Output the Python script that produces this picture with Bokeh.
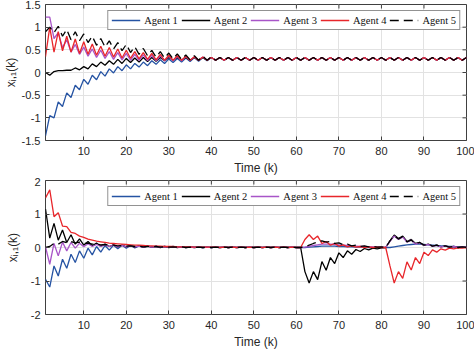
import math
from bokeh.plotting import figure
from bokeh.models import Range1d, FixedTicker, Legend, LegendItem
from bokeh.layouts import column
from bokeh.embed import file_html
from bokeh.resources import INLINE

k = list(range(1, 101))
agent_names = ["Agent 1", "Agent 2", "Agent 3", "Agent 4", "Agent 5"]
agent_colors = ["#2553a3", "#000000", "#a855c8", "#e8262b", "#000000"]
agent_dash = ["solid", "solid", "solid", "solid", "9 5"]

xticks = [10, 20, 30, 40, 50, 60, 70, 80, 90, 100]
xtick_labels = ["10", "20", "30", "40", "50", "60", "70", "80", "90", "100"]
top_yticks = [-1.5, -1, -0.5, 0, 0.5, 1, 1.5]
top_ytick_labels = ["-1.5", "-1", "-0.5", "0", "0.5", "1", "1.5"]
bot_yticks = [-2, -1, 0, 1, 2]
bot_ytick_labels = ["-2", "-1", "0", "1", "2"]

# ---- top panel, k = 1..40 per agent, then common steady zigzag k = 41..100
top_a1_head = [-1.40, -0.95, -1.00, -0.65, -0.75, -0.45, -0.55, -0.28, -0.38, -0.15,
               -0.26, -0.06, -0.16, 0.02, -0.08, 0.08, -0.01, 0.13, 0.04, 0.17,
               0.08, 0.20, 0.12, 0.23, 0.15, 0.26, 0.18, 0.28, 0.20, 0.30,
               0.22, 0.31, 0.23, 0.32, 0.24, 0.33, 0.25, 0.33, 0.26, 0.33]
top_a2_head = [0.00, -0.06, 0.02, 0.04, 0.04, 0.05, 0.05, 0.10, 0.06, 0.13,
               0.08, 0.19, 0.13, 0.23, 0.16, 0.26, 0.18, 0.29, 0.20, 0.31,
               0.22, 0.32, 0.23, 0.33, 0.24, 0.33, 0.25, 0.33, 0.26, 0.33,
               0.27, 0.33, 0.27, 0.33, 0.27, 0.33, 0.27, 0.33, 0.27, 0.33]
top_a3_head = [1.22, 1.22, 0.75, 0.88, 0.55, 0.72, 0.45, 0.62, 0.40, 0.56,
               0.36, 0.52, 0.33, 0.49, 0.31, 0.46, 0.29, 0.44, 0.28, 0.42,
               0.27, 0.40, 0.27, 0.39, 0.26, 0.38, 0.26, 0.37, 0.26, 0.36,
               0.26, 0.35, 0.26, 0.35, 0.27, 0.34, 0.27, 0.34, 0.27, 0.33]
top_a4_head = [0.35, 1.00, 0.45, 0.90, 0.48, 0.80, 0.45, 0.74, 0.42, 0.68,
               0.40, 0.63, 0.38, 0.58, 0.36, 0.55, 0.34, 0.52, 0.32, 0.49,
               0.31, 0.46, 0.30, 0.44, 0.29, 0.42, 0.28, 0.40, 0.27, 0.38,
               0.27, 0.37, 0.27, 0.36, 0.27, 0.35, 0.27, 0.34, 0.27, 0.33]
top_a5_head = [0.90, 1.00, 0.88, 1.02, 0.80, 0.95, 0.72, 0.90, 0.70, 0.85,
               0.66, 0.80, 0.60, 0.75, 0.56, 0.70, 0.52, 0.66, 0.48, 0.62,
               0.44, 0.57, 0.40, 0.53, 0.37, 0.49, 0.34, 0.46, 0.32, 0.43,
               0.30, 0.41, 0.29, 0.39, 0.28, 0.37, 0.27, 0.36, 0.27, 0.35]
top_steady = [0.27, 0.33, 0.27, 0.33, 0.27, 0.33, 0.27, 0.33, 0.27, 0.33,
              0.27, 0.33, 0.27, 0.33, 0.27, 0.33, 0.27, 0.33, 0.27, 0.33,
              0.27, 0.33, 0.27, 0.33, 0.27, 0.33, 0.27, 0.33, 0.27, 0.33,
              0.27, 0.33, 0.27, 0.33, 0.27, 0.33, 0.27, 0.33, 0.27, 0.33,
              0.27, 0.33, 0.27, 0.33, 0.27, 0.33, 0.27, 0.33, 0.27, 0.33,
              0.27, 0.33, 0.27, 0.33, 0.27, 0.33, 0.27, 0.33, 0.27, 0.33]

# ---- bottom panel, k = 1..100
bot_a1 = [-0.95, -1.18, -0.55, -0.85, -0.35, -0.62, -0.20, -0.45, -0.10, -0.32,
          -0.02, -0.22, 0.03, -0.14, 0.06, -0.08, 0.07, -0.04, 0.07, -0.02,
          0.06, -0.01, 0.05, 0.00, 0.04, 0.01, 0.04, 0.01, 0.03, 0.01,
          0.03, 0.01, 0.02, 0.01, 0.02, 0.01, 0.02, 0.00, 0.01, 0.00,
          0.01, 0.00, 0.01, 0.00, 0.01, 0.00, 0.01, 0.00, 0.01, 0.00,
          0.01, 0.00, 0.01, 0.00, 0.01, 0.00, 0.01, 0.00, 0.01, 0.00,
          0.00, 0.00, 0.01, 0.02, 0.03, 0.04, 0.04, 0.04, 0.04, 0.03,
          0.03, 0.02, 0.02, 0.01, 0.01, 0.01, 0.00, 0.00, 0.00, 0.00,
          0.00, 0.00, 0.02, 0.04, 0.06, 0.08, 0.09, 0.10, 0.10, 0.09,
          0.08, 0.07, 0.06, 0.05, 0.04, 0.03, 0.03, 0.02, 0.02, 0.01]
bot_a2 = [1.15, 0.28, 0.72, 0.22, 0.52, 0.15, 0.38, 0.10, 0.26, 0.07,
          0.18, 0.05, 0.13, 0.04, 0.10, 0.03, 0.08, 0.02, 0.07, 0.02,
          0.06, 0.01, 0.05, 0.01, 0.04, 0.01, 0.03, 0.00, 0.03, 0.00,
          0.02, 0.00, 0.02, 0.00, 0.01, 0.00, 0.01, 0.00, 0.01, 0.00,
          0.01, 0.00, 0.01, 0.00, 0.01, 0.00, 0.01, 0.00, 0.01, 0.00,
          0.01, 0.00, 0.01, 0.00, 0.01, 0.00, 0.01, 0.00, 0.01, 0.00,
          0.00, -0.72, -1.06, -0.72, -0.96, -0.42, -0.68, -0.30, -0.48, -0.16,
          -0.30, -0.10, -0.20, -0.06, -0.12, -0.03, -0.07, -0.02, -0.04, -0.01,
          0.00, 0.20, 0.37, 0.27, 0.34, 0.18, 0.24, 0.12, 0.15, 0.06,
          0.10, 0.04, 0.07, 0.02, 0.05, 0.01, 0.03, 0.00, 0.02, 0.00]
bot_a3 = [0.02, -0.50, 0.12, -0.25, 0.16, -0.10, 0.15, -0.02, 0.13, 0.02,
          0.11, 0.03, 0.09, 0.03, 0.08, 0.03, 0.07, 0.02, 0.06, 0.02,
          0.05, 0.02, 0.04, 0.01, 0.04, 0.01, 0.03, 0.01, 0.03, 0.01,
          0.02, 0.01, 0.02, 0.00, 0.02, 0.00, 0.01, 0.00, 0.01, 0.00,
          0.01, 0.00, 0.01, 0.00, 0.01, 0.00, 0.01, 0.00, 0.01, 0.00,
          0.01, 0.00, 0.01, 0.00, 0.01, 0.00, 0.01, 0.00, 0.01, 0.00,
          0.00, 0.01, 0.03, 0.06, 0.08, 0.10, 0.10, 0.10, 0.09, 0.08,
          0.07, 0.06, 0.05, 0.04, 0.03, 0.03, 0.02, 0.02, 0.01, 0.01,
          0.00, 0.18, 0.34, 0.24, 0.31, 0.16, 0.22, 0.10, 0.14, 0.06,
          0.09, 0.04, 0.06, 0.02, 0.04, 0.01, 0.03, 0.00, 0.02, 0.00]
bot_a4 = [1.48, 1.72, 0.92, 1.04, 0.64, 0.62, 0.45, 0.42, 0.34, 0.30,
          0.25, 0.22, 0.19, 0.17, 0.15, 0.13, 0.12, 0.11, 0.10, 0.09,
          0.08, 0.07, 0.07, 0.06, 0.05, 0.05, 0.04, 0.04, 0.03, 0.03,
          0.03, 0.02, 0.02, 0.02, 0.02, 0.01, 0.01, 0.01, 0.01, 0.01,
          0.01, 0.00, 0.01, 0.00, 0.01, 0.00, 0.01, 0.00, 0.01, 0.00,
          0.01, 0.00, 0.01, 0.00, 0.01, 0.00, 0.01, 0.00, 0.01, 0.00,
          0.00, 0.24, 0.38, 0.24, 0.34, 0.12, 0.18, 0.07, 0.12, 0.04,
          0.08, 0.02, 0.05, 0.01, 0.03, 0.00, 0.02, 0.00, 0.01, 0.00,
          0.00, -0.55, -1.06, -0.72, -0.92, -0.43, -0.67, -0.30, -0.48, -0.14,
          -0.24, -0.07, -0.14, -0.04, -0.08, -0.02, -0.04, -0.01, -0.02, 0.00]
bot_a5 = [0.00, 0.03, 0.12, 0.10, 0.18, 0.14, 0.18, 0.14, 0.16, 0.12,
          0.13, 0.10, 0.11, 0.08, 0.09, 0.07, 0.07, 0.05, 0.06, 0.04,
          0.05, 0.03, 0.04, 0.02, 0.03, 0.02, 0.03, 0.01, 0.02, 0.01,
          0.02, 0.01, 0.02, 0.00, 0.01, 0.00, 0.01, 0.00, 0.01, 0.00,
          0.01, 0.00, 0.01, 0.00, 0.01, 0.00, 0.01, 0.00, 0.01, 0.00,
          0.01, 0.00, 0.01, 0.00, 0.01, 0.00, 0.01, 0.00, 0.01, 0.00,
          0.00, 0.02, 0.07, 0.12, 0.16, 0.20, 0.16, 0.18, 0.12, 0.14,
          0.08, 0.10, 0.05, 0.07, 0.03, 0.05, 0.02, 0.03, 0.01, 0.02,
          0.00, 0.20, 0.36, 0.25, 0.33, 0.17, 0.22, 0.11, 0.15, 0.07,
          0.10, 0.04, 0.07, 0.02, 0.05, 0.01, 0.03, 0.00, 0.02, 0.00]

top_series = [top_a1_head + top_steady, top_a2_head + top_steady, top_a3_head + top_steady,
              top_a4_head + top_steady, top_a5_head + top_steady]
bot_series = [bot_a1, bot_a2, bot_a3, bot_a4, bot_a5]

AXIS_COLOR = "#404040"
TICK_FONT = "Liberation Sans"
X_RANGE = (1, 100)


def style_axis(ax, ticks, labels):
    ax.ticker = FixedTicker(ticks=ticks)
    ax.major_label_overrides = {t: l for t, l in zip(ticks, labels)}
    ax.minor_tick_line_color = None
    ax.major_tick_in = 4
    ax.major_tick_out = 0
    ax.major_tick_line_color = AXIS_COLOR
    ax.axis_line_color = None
    ax.major_label_text_font = TICK_FONT
    ax.major_label_text_color = "#262626"
    ax.major_label_text_font_size = "11px"


def build(series, yr, yticks, ylabels, height, top_border, bottom_border, ylab_standoff):
    p = figure(width=474, height=height, x_range=Range1d(*X_RANGE), y_range=Range1d(*yr),
               output_backend="svg", toolbar_location=None,
               min_border_left=40, min_border_right=8, min_border_top=top_border,
               min_border_bottom=bottom_border)
    p.background_fill_color = "white"
    p.border_fill_color = "white"
    p.outline_line_color = AXIS_COLOR
    p.outline_line_width = 1

    style_axis(p.xaxis[0], xticks, xtick_labels)
    p.xaxis[0].major_label_standoff = 6
    p.xaxis[0].axis_label = "Time (k)"
    p.xaxis[0].axis_label_standoff = 3
    style_axis(p.yaxis[0], yticks, ylabels)
    p.yaxis[0].major_label_standoff = 5
    p.yaxis[0].axis_label = "xᵢ,₁(k)"
    p.yaxis[0].axis_label_standoff = ylab_standoff
    for ax in (p.xaxis[0], p.yaxis[0]):
        ax.axis_label_text_font = TICK_FONT
        ax.axis_label_text_font_size = "12px"
        ax.axis_label_text_font_style = "normal"
        ax.axis_label_text_color = "#262626"

    # inward ticks on the top and right edges of the box
    p.ray(x=xticks, y=[yr[1]] * len(xticks), length=4, length_units="screen",
          angle=-math.pi / 2, line_color=AXIS_COLOR, line_width=1)
    p.ray(x=[X_RANGE[1]] * len(yticks), y=yticks, length=4, length_units="screen",
          angle=math.pi, line_color=AXIS_COLOR, line_width=1)

    p.xgrid.ticker = FixedTicker(ticks=xticks)
    p.ygrid.ticker = FixedTicker(ticks=yticks)
    p.xgrid.grid_line_color = "#e2e2e2"
    p.ygrid.grid_line_color = "#e2e2e2"

    items = []
    for name, ys, col, dash in zip(agent_names, series, agent_colors, agent_dash):
        r = p.line(k, ys, line_color=col, line_width=1.3, line_dash=dash)
        items.append(LegendItem(label=name, renderers=[r]))
    leg = Legend(items=items, orientation="horizontal", location="top_right")
    leg.margin = 6
    leg.padding = 3
    leg.spacing = 3
    leg.glyph_width = 29
    leg.glyph_height = 12
    leg.label_height = 12
    leg.label_standoff = 4
    leg.label_text_font = "Liberation Serif"
    leg.label_text_font_size = "10.5px"
    leg.label_text_color = "#111111"
    leg.border_line_color = "#262626"
    leg.border_line_width = 1
    leg.background_fill_alpha = 1.0
    p.add_layout(leg)
    return p


p1 = build(top_series, (-1.5, 1.5), top_yticks, top_ytick_labels, 177, 4, 33, 1)
p2 = build(bot_series, (-2, 2), bot_yticks, bot_ytick_labels, 174, 3, 32, 8)
layout = column(p1, p2)

open("out.html", "w").write(file_html(layout, INLINE))
